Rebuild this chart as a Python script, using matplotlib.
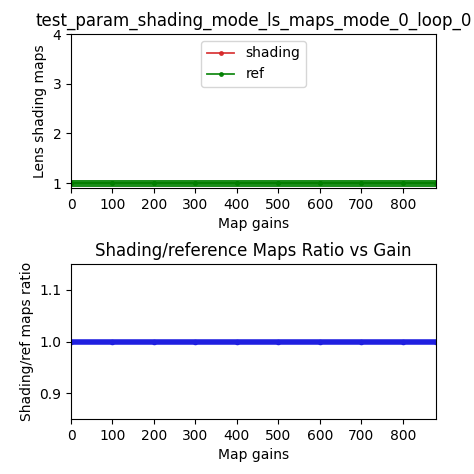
import matplotlib
matplotlib.use("Agg")
import matplotlib.pyplot as plt

gains = [0, 100, 200, 300, 400, 500, 600, 700, 800, 880]
shading = [1.0, 1.0, 1.0, 1.0, 1.0, 1.0, 1.0, 1.0, 1.0, 1.0]
ref = [1.0, 1.0, 1.0, 1.0, 1.0, 1.0, 1.0, 1.0, 1.0, 1.0]
ratio = [1.0, 1.0, 1.0, 1.0, 1.0, 1.0, 1.0, 1.0, 1.0, 1.0]

fig = plt.figure(figsize=(4.74, 4.74), dpi=100)
ax1 = fig.add_axes([71/474, 1-188/474, 365/474, 154/474])
ax2 = fig.add_axes([71/474, 1-419/474, 365/474, 155/474])

ax1.plot(gains, shading, color='#d62728', marker='.', ms=5, lw=1.3, label='shading', alpha=0.9)
ax1.plot(gains, ref, color='green', marker='.', ms=5, lw=1.3, label='ref', alpha=0.9)
ax1.plot(gains, ref, color='green', lw=5, alpha=0.9)
ax1.set_xlim(0, 880)
ax1.set_ylim(0.9, 4)
ax1.set_yticks([1, 2, 3, 4])
ax1.set_xticks(range(0, 900, 100))
ax1.set_xlabel('Map gains')
ax1.set_ylabel('Lens shading maps')
ax1.set_title('test_param_shading_mode_ls_maps_mode_0_loop_0')
ax1.legend(loc='upper center')

ax2.plot(gains, ratio, color='#1f1fe0', lw=4, marker='.', ms=6)
ax2.set_xlim(0, 880)
ax2.set_ylim(0.85, 1.15)
ax2.set_yticks([0.9, 1.0, 1.1])
ax2.set_xticks(range(0, 900, 100))
ax2.set_xlabel('Map gains')
ax2.set_ylabel('Shading/ref maps ratio')
ax2.set_title('Shading/reference Maps Ratio vs Gain')

fig.savefig('out.png', dpi=100)
